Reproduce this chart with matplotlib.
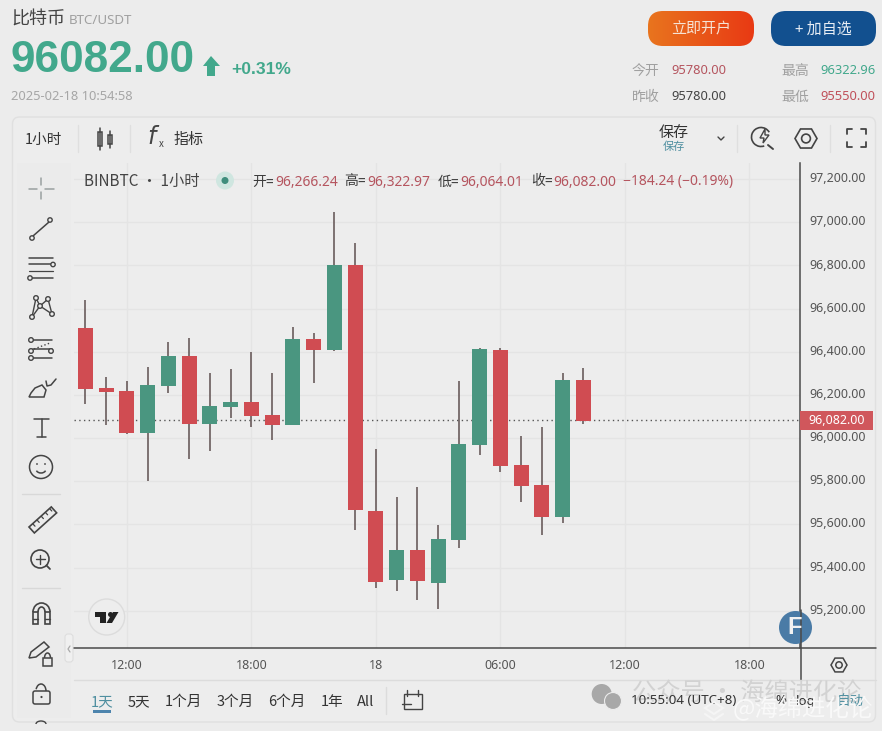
import numpy as np
import matplotlib
matplotlib.use("Agg")
import matplotlib.pyplot as plt
from matplotlib.patches import Circle, FancyBboxPatch, Rectangle, Polygon, Arc
from matplotlib.transforms import ScaledTranslation

plt.rcParams['font.family'] = ['Noto Sans CJK SC', 'DejaVu Sans']

# velas de 1 hora, la primera es las 10:00
opens = [96510, 96232, 96218, 96025, 96241, 96380, 96065, 96144, 96167, 96107, 96060, 96459, 96408,
         96802, 95662, 95344, 95481, 95330, 95529, 95968, 96408, 95875, 95782, 95636, 96269]
closes = [96229, 96213, 96025, 96246, 96380, 96065, 96149, 96167, 96102, 96060, 96459, 96408, 96802,
          95667, 95334, 95481, 95339, 95532, 95973, 96413, 95870, 95778, 95636, 96269, 96080]
highs = [96640, 96283, 96264, 96329, 96445, 96464, 96301, 96320, 96399, 96301, 96515, 96487, 97048,
         96904, 95949, 95727, 95773, 95597, 96264, 96417, 96417, 96009, 96051, 96301, 96324]
lows = [96159, 96062, 96019, 95801, 96209, 95904, 95941, 96093, 96051, 95992, 96060, 96255, 96403,
        95574, 95307, 95293, 95251, 95209, 95492, 95921, 95843, 95704, 95552, 95608, 96067]

price_ticks = [95200, 95400, 95600, 95800, 96000, 96200, 96400, 96600, 96800, 97000, 97200]
time_pos = [2, 8, 14, 20, 26, 32]
time_labels = ["12:00", "18:00", "18", "06:00", "12:00", "18:00"]
last_price = 96082
range_labels = ["1天", "5天", "1个月", "3个月", "6个月", "1年", "All"]
range_x = [102.5, 139, 183, 235, 287, 332, 366]

BG = "#ececec"
RED = "#d04c52"
GREEN = "#4a9680"
WICK = "#6a5c5c"
GRID = "#e4e4e4"
INK = "#3c3c3c"
ICON = "#444444"
MUTED_RED = "#b5555f"
HEAD_GREEN = "#42a88c"
NOTO = ["Noto Sans", "Noto Sans CJK SC"]

W, H = 882, 731
fig = plt.figure(figsize=(W / 100, H / 100), dpi=100, facecolor=BG)

# fondo de la tarjeta
bg = fig.add_axes([0, 0, 1, 1], zorder=0)
bg.set_xlim(0, W)
bg.set_ylim(H, 0)
bg.axis("off")
bg.add_patch(FancyBboxPatch((12.5, 117), 863, 605, boxstyle="round,pad=0,rounding_size=7",
                            fc="#ededed", ec="#e0e0e0", lw=1))
bg.add_patch(Rectangle((17, 163), 54, 555, fc="#ebebeb", ec="none"))

# capa de interfaz en pixeles, encima del grafico
ui = fig.add_axes([0, 0, 1, 1], zorder=3)
ui.patch.set_alpha(0)
ui.axis("off")


def txt(x, y, s, size=9, color=INK, ha="left", weight="normal", family=None, **kw):
    if family is not None:
        kw["family"] = family
    ui.text(x, y, s, fontsize=size, color=color, ha=ha, va="center", fontweight=weight, **kw)


def line(xs, ys, color=ICON, lw=1.1, **kw):
    ui.plot(xs, ys, color=color, lw=lw, solid_capstyle="round", **kw)


def ring(x, y, r=2.2, color=ICON, lw=1.0, fill=BG):
    ui.add_patch(Circle((x, y), r, fc=fill, ec=color, lw=lw, zorder=5))


def hexagon(x, y, r, lw=1.2):
    ang = np.radians([0, 60, 120, 180, 240, 300])
    ui.add_patch(Polygon(np.c_[x + r * np.cos(ang), y + r * np.sin(ang)], closed=True,
                         fc="none", ec=ICON, lw=lw))
    ui.add_patch(Circle((x, y), r * 0.4, fc="none", ec=ICON, lw=lw))


# cabecera
txt(11, 19.5, "比特币", 13, "#444444")
txt(69, 20, "BTC/USDT", 9.6, "#a0a0a0", family="Noto Sans")
txt(11, 61, "96082.00", 31.8, HEAD_GREEN, weight="bold", family="Liberation Sans")
ui.add_patch(Polygon([(211, 56), (220, 66), (215, 66), (215, 76), (207, 76), (207, 66), (203, 66)],
                     closed=True, fc=HEAD_GREEN, ec="none"))
txt(231, 69.5, "+0.31%", 12.6, HEAD_GREEN, weight="bold", family="Liberation Sans")
txt(11, 96.5, "2025-02-18 10:54:58", 9.3, "#a6a6a6", family="Noto Sans")

# botones
grad = np.linspace(0, 1, 60)[None, :, None]
cols = np.array([233, 116, 30])[None, None, :] * (1 - grad) + np.array([232, 58, 20])[None, None, :] * grad
im = ui.imshow(cols / 255, extent=(648, 754, 46, 11), aspect="auto", zorder=1)
btn = FancyBboxPatch((648, 11), 106, 35, boxstyle="round,pad=0,rounding_size=15",
                     fc="none", ec="none", transform=ui.transData)
ui.add_patch(btn)
im.set_clip_path(btn)
ui.set_xlim(0, W)
ui.set_ylim(H, 0)
txt(701, 29.5, "立即开户", 10.8, "#f6e3d4", ha="center", zorder=3)
ui.add_patch(FancyBboxPatch((771, 11), 105, 35, boxstyle="round,pad=0,rounding_size=15",
                            fc="#12508f", ec="none", zorder=1))
txt(823, 29.5, "+ 加自选", 10.8, "#e8eef5", ha="center", zorder=3)

# cuadro de precios
txt(632, 70.5, "今开", 10, "#a0a0a0")
txt(671, 70.5, "95780.00", 9.3, MUTED_RED, family="Noto Sans")
txt(632, 96.5, "昨收", 10, "#a0a0a0")
txt(671, 96.5, "95780.00", 9.3, "#444444", family="Noto Sans")
txt(781, 70.5, "最高", 10, "#a0a0a0")
txt(820, 70.5, "96322.96", 9.3, HEAD_GREEN, family="Noto Sans")
txt(781, 96.5, "最低", 10, "#a0a0a0")
txt(820, 96.5, "95550.00", 9.3, "#c0505a", family="Noto Sans")

# barra superior
txt(25, 139.5, "1小时", 10.5, "#333333")
for sx in [78, 130, 737, 830]:
    line([sx, sx], [125, 152], color="#dfdfdf", lw=1)
for cx, top, bot in [(100, 132, 146), (110, 135, 144)]:
    ui.add_patch(Rectangle((cx - 2.3, top), 4.6, bot - top, fc="none", ec=ICON, lw=1.1))
    line([cx, cx], [top - 4, bot + 4])
txt(147, 137, "$f$", 17, ICON)
txt(159, 144, "x", 7, ICON)
txt(174, 139.5, "指标", 10.8, "#333333")
txt(674, 132.5, "保存", 10.8, "#333333", ha="center")
txt(674, 147, "保存", 8, "#4f8fa0", ha="center")
line([718, 721, 724], [137, 140, 137], lw=1)
# rayo con lupa
ui.add_patch(Arc((761, 137), 19, 19, theta1=70, theta2=330, ec=ICON, lw=1.2))
line([768, 773], [145, 149], lw=1.4)
ui.add_patch(Polygon([(765, 129), (760, 138), (764, 138), (763, 143), (769, 135), (765, 135)],
                     closed=True, fc="none", ec=ICON, lw=1))
hexagon(806, 138.5, 11)
for cx, cy, dx, dy in [(847, 129, 1, 1), (866, 129, -1, 1), (847, 147, 1, -1), (866, 147, -1, -1)]:
    line([cx + 5 * dx, cx, cx], [cy, cy, cy + 5 * dy], lw=1.3)

# iconos laterales
for gap_y in [(178, 185), (192, 199)]:
    line([41, 41], gap_y, color="#9aa0a0", lw=1.1)
line([29, 37], [188.5, 188.5], color="#9aa0a0", lw=1.1)
line([45, 54], [188.5, 188.5], color="#9aa0a0", lw=1.1)

line([33, 49], [236, 222])
ring(32, 238)
ring(50, 220)

for yy, x0, x1 in [(258, 29, 53), (264, 29, 52), (278, 31, 53)]:
    line([x0, x1], [yy, yy])
line([29, 53], [271, 271], lw=0.9)
ring(53, 264.5)
ring(30, 278)

pts = [(36, 298), (48, 299), (40, 306), (32, 317), (52, 314)]
for a, b in [(0, 2), (1, 2), (2, 3), (2, 4), (0, 3), (1, 4)]:
    line([pts[a][0], pts[b][0]], [pts[a][1], pts[b][1]], lw=1)
for p in pts:
    ring(p[0], p[1], 2.3)

line([30, 52], [340, 340])
line([33, 52], [349, 349])
line([32, 52], [357.5, 357.5])
line([34, 50], [349, 343], lw=1, ls=":")
for p in [(31, 340), (31, 351), (31, 358), (51, 351)]:
    ring(p[0], p[1], 2.3)

# pincel
ui.add_patch(Polygon([(29, 397), (44, 397), (46, 390), (42, 385), (35, 388), (31, 393)], closed=True,
                     fc="none", ec=ICON, lw=1.1))
line([46, 47, 51, 56], [381, 386, 385, 379], lw=1.1)

line([34, 49], [419, 419], lw=1.1)
line([41.5, 41.5], [419, 437], lw=1.1)
line([37, 46], [437, 437], lw=1.1)

ui.add_patch(Circle((41, 467), 11.5, fc="none", ec=ICON, lw=1.1))
ui.add_patch(Circle((37, 464), 0.9, fc=ICON, ec="none"))
ui.add_patch(Circle((45, 464), 0.9, fc=ICON, ec="none"))
ui.add_patch(Arc((41, 469), 10, 8, theta1=20, theta2=160, ec=ICON, lw=1.1))

line([22, 60], [493.5, 493.5], color="#d8d8d8", lw=1)
ui.add_patch(Rectangle((29, 527), 30, 8, angle=-42, fc="none", ec=ICON, lw=1.2, rotation_point=(29, 527)))
for k in range(5):
    bx = 33 + k * 4.2
    by = 524 - k * 3.8
    line([bx, bx + 2], [by, by + 2.2], lw=0.9)

ui.add_patch(Circle((40, 559), 9, fc="none", ec=ICON, lw=1.2))
line([46.5, 50], [565.5, 569], lw=1.3)
line([35.5, 44.5], [559, 559], lw=1)
line([40, 40], [554.5, 563.5], lw=1)
line([22, 60], [587.5, 587.5], color="#d8d8d8", lw=1)

# iman
ui.add_patch(Arc((41.5, 612), 17, 18, theta1=0, theta2=180, angle=180, ec=ICON, lw=1.2))
ui.add_patch(Arc((41.5, 612), 7, 10, theta1=0, theta2=180, angle=180, ec=ICON, lw=1.2))
for x0, x1 in [(33, 38), (45, 50)]:
    ui.add_patch(Rectangle((x0, 612), x1 - x0, 12, fc="none", ec=ICON, lw=1.2))
    line([x0, x1], [619, 619], lw=1)

# lapiz y candados
ui.add_patch(Polygon([(29, 658), (31, 652), (44, 642), (49, 647), (36, 657)], closed=True,
                     fc="none", ec=ICON, lw=1.1))
ui.add_patch(Rectangle((43, 658), 9, 7.5, fc="none", ec=ICON, lw=1.1))
ui.add_patch(Arc((47.5, 658), 6, 10, theta1=0, theta2=180, angle=180, ec=ICON, lw=1.1))
ui.add_patch(FancyBboxPatch((33, 691), 17, 13, boxstyle="round,pad=0,rounding_size=2", fc="none", ec=ICON, lw=1.1))
ui.add_patch(Arc((41, 691), 10, 14, theta1=20, theta2=180, angle=180, ec=ICON, lw=1.1))
ui.add_patch(Circle((41.5, 697), 1.1, fc=ICON, ec="none"))
ui.add_patch(Arc((41, 724), 10, 6, theta1=0, theta2=180, angle=180, ec=ICON, lw=1))

# asa para plegar
ui.add_patch(FancyBboxPatch((65, 634), 8, 28, boxstyle="round,pad=0,rounding_size=3", fc="#f0f0f0", ec="#dedede", lw=0.8))
line([70, 68, 70], [646, 649, 652], color="#aaaaaa", lw=0.9)

# logo TV
ui.add_patch(Circle((106.7, 617), 18, fc="#ededed", ec="#dcdcdc", lw=1, zorder=4))
ui.add_patch(Polygon([(95, 612), (106, 612), (106, 623), (100, 623), (100, 617), (95, 617)], closed=True,
                     fc="#222222", ec="none", zorder=5))
ui.add_patch(Circle((110.5, 614.5), 2.5, fc="#222222", ec="none", zorder=5))
ui.add_patch(Polygon([(118.5, 612), (112, 623), (106.5, 623), (113, 612)], closed=True,
                     fc="#222222", ec="none", zorder=5))

# leyenda
txt(84, 181.5, "BINBTC · 1小时", 11, "#444444")
ui.add_patch(Circle((225, 180.5), 9, fc="#cfe6e0", ec="none"))
ui.add_patch(Circle((225, 180.5), 3.5, fc="#3f8d7c", ec="none"))
x_leg = 252
parts = [("开=", INK, 0), ("96,266.24", MUTED_RED, 23.6), ("高=", INK, 92), ("96,322.97", MUTED_RED, 115),
         ("低=", INK, 185.6), ("96,064.01", MUTED_RED, 208), ("收=", INK, 279), ("96,082.00", MUTED_RED, 301),
         ("−184.24 (−0.19%)", MUTED_RED, 370.6)]
for s, c, off in parts:
    txt(x_leg + off, 182, s, 10, c, family=NOTO)

# ejes inferiores
line([74, 876], [648, 648], color="#4a4a4a", lw=1.1)
line([800.5, 800.5], [610, 680], color="#4a4a4a", lw=1.1)
line([74, 876], [680, 680], color="#dcdcdc", lw=1)

# barra inferior
for s, x in zip(range_labels, range_x):
    txt(x, 702, s, 10.5, "#4f8fa0" if s == "1天" else "#333333", ha="center")
ui.add_patch(Rectangle((93, 710), 18, 2.6, fc="#4d84ad", ec="none"))
line([386, 386], [687, 714], color="#dcdcdc", lw=1)
ui.add_patch(Rectangle((404, 694), 18, 15, fc="none", ec=ICON, lw=1))
line([407, 407], [690, 696], lw=1)
line([418, 418], [690, 696], lw=1)
line([402, 411], [704, 704], lw=1)
txt(631, 701, "10:55:04 (UTC+8)", 9.6, "#333333", family="Noto Sans")
txt(775, 701, "%", 9.5, "#333333", family="Noto Sans")
txt(796, 701, "log", 9.5, "#333333", family="Noto Sans")
txt(837, 702, "自动", 9.8, "#4f8fa0")
hexagon(839, 665, 8, lw=1.1)

# marca de agua
ui.add_patch(Circle((601.7, 694), 10, fc="#a8a8a8", ec="none", zorder=6))
ui.add_patch(Circle((613, 701), 8.5, fc="#a8a8a8", ec="#ececec", lw=0.8, zorder=6))
txt(632, 693, "公众号 · 海绵进化论", 17.5, "#d2d2d2", zorder=2)
txt(733, 709, "@海绵进化论", 17, "#f9f9f9", zorder=7)
ui.add_patch(Polygon([(705, 708), (714, 702), (723, 708), (714, 714)], closed=True, fc="none", ec="#f5f5f5", lw=1.5, zorder=7))
line([705, 714, 723], [714, 720, 714], color="#f5f5f5", lw=1.5, zorder=7)

# moneda F
ui.add_patch(Circle((795.5, 627.5), 16.5, fc="#4a7ba6", ec="none", zorder=1))
ui.text(795, 627.5, "F", fontsize=17, color="#f2f2f2", ha="center", va="center", fontweight="bold",
        family="Liberation Sans", zorder=2)

# grafico de velas
L, R, T, B = 74, 800, 163, 648
ax = fig.add_axes([L / W, 1 - B / H, (R - L) / W, (B - T) / H], zorder=2)
ax.patch.set_alpha(0)
ax.set_xlim(-0.545, 34.44)
ax.set_ylim(95027, 97275)

ax.grid(True, color=GRID, lw=1)
ax.set_axisbelow(True)
for s in ["top", "left", "bottom"]:
    ax.spines[s].set_visible(False)
ax.spines["right"].set_color("#4a4a4a")
ax.spines["right"].set_linewidth(1.1)

ax.yaxis.tick_right()
ax.set_yticks(price_ticks)
ax.set_yticklabels([f"{p:,.2f}" for p in price_ticks], family="Noto Sans", fontsize=9, color="#555555")
ax.tick_params(axis="y", length=0, pad=7)
ax.set_xticks(time_pos)
ax.set_xticklabels(time_labels, family="Noto Sans", fontsize=9, color="#555555")
ax.get_xticklabels()[2].set_fontweight("bold")
ax.tick_params(axis="x", length=0, pad=8)
up = ScaledTranslation(0, 1.4 / 72, fig.dpi_scale_trans)
for lab in ax.get_yticklabels():
    lab.set_transform(lab.get_transform() + up)

for i in range(len(opens)):
    col = GREEN if closes[i] >= opens[i] else RED
    ax.vlines(i, lows[i], highs[i], color=WICK, lw=1.2, zorder=3)
    ax.bar(i, abs(closes[i] - opens[i]), bottom=min(opens[i], closes[i]), width=0.72, color=col, zorder=4)

ax.axhline(last_price, color="#555555", lw=1, ls=(0, (1, 2.4)), zorder=2)
ax.add_patch(Rectangle((1.0, last_price - 44), 0.1, 88, transform=ax.get_yaxis_transform(),
                       fc="#d0575c", ec="none", clip_on=False, zorder=5))
ax.text(1.05, last_price, f"{last_price:,.2f}", transform=ax.get_yaxis_transform(), ha="center", va="center",
        fontsize=9, color="white", family="Noto Sans", clip_on=False, zorder=6)

fig.savefig("out.png", dpi=100, facecolor=BG)
